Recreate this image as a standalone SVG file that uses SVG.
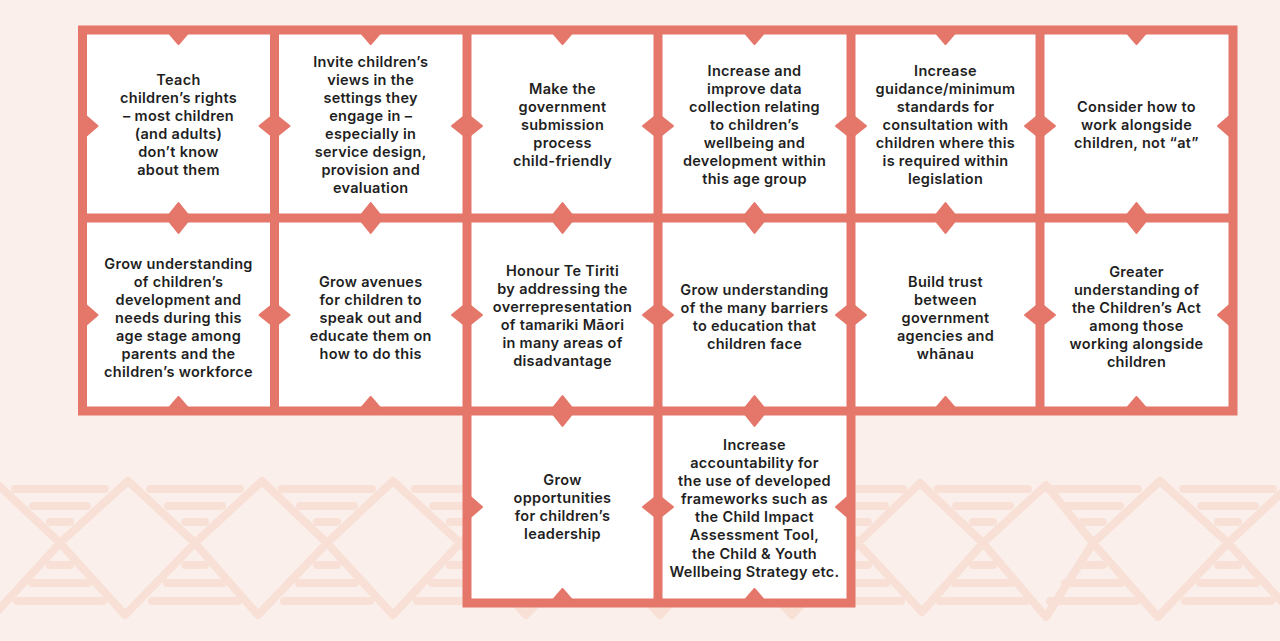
<svg xmlns="http://www.w3.org/2000/svg" width="1280" height="641" viewBox="0 0 1280 641">
<style>
.bg{fill:#faefea}
.pat{fill:none;stroke:#f8e0d6;stroke-width:8;stroke-linecap:round;stroke-linejoin:round}
.cell{fill:#ffffff}
.grid{stroke:#e4776a;stroke-width:9;stroke-linecap:square;fill:none}
.dia{fill:#e4776a;stroke:#e4776a;stroke-width:2;stroke-linejoin:round}
.t{font-family:Inter,"Open Sans",sans-serif;font-weight:600;font-size:14.5px;letter-spacing:0.3px;fill:#1f1f1f;text-anchor:middle}
</style>
<defs>
<polygon id="dv" points="-15,0 0,-12 15,0 0,12"/>
<polygon id="dh" points="0,-15 12,0 0,15 -12,0"/>
<polygon id="tr" points="0,-13 15,0 0,13"/>
<polygon id="tl" points="0,-13 -15,0 0,13"/>
<polygon id="td" points="-12,0 0,14 12,0"/>
<polygon id="tu" points="-12,0 0,-14 12,0"/>
<g id="dash">
<path d="M-45,-54H45M-27,-37H27M-10,-21H10M-10,22H10M-28,40H28M-43,58H43"/>
</g>
</defs>
<rect class="bg" x="0" y="0" width="1280" height="641"/>
<g id="pattern" class="pat">
<path d="M-73,543L-6,481L60,543L-6,615Z M60,543L128,481L195,543L125,615Z M195,543L262,481L327,543L258,615Z M327,543L393,481L460,543L393,615Z M460,543L526,481L593,543L526,615Z M593,543L660,481L726,543L660,615Z M726,543L792,481L858,543L792,615Z M858,543L920,483L983,543L922,612Z M983,543L1046,485L1093,543L1046,617Z M1093,543L1160,481L1228,543L1158,617Z M1228,543L1294,481L1360,543L1294,615Z"/>
<use href="#dash" x="60" y="543"/>
<use href="#dash" x="195" y="543"/>
<use href="#dash" x="327" y="543"/>
<use href="#dash" x="460" y="543"/>
<use href="#dash" x="858" y="543"/>
<use href="#dash" x="983" y="543"/>
<use href="#dash" x="1093" y="543"/>
<use href="#dash" x="1228" y="543"/>
</g>
<g id="c11"><rect class="cell" x="82.5" y="30" width="192" height="188"/>
<text class="t"><tspan x="178.5" y="85">Teach</tspan><tspan x="178.5" y="103">children’s rights</tspan><tspan x="178.5" y="121">– most children</tspan><tspan x="178.5" y="139">(and adults)</tspan><tspan x="178.5" y="157">don’t know</tspan><tspan x="178.5" y="175">about them</tspan></text></g>
<g id="c12"><rect class="cell" x="274.5" y="30" width="192.5" height="188"/>
<text class="t"><tspan x="370.7" y="67">Invite children’s</tspan><tspan x="370.7" y="85">views in the</tspan><tspan x="370.7" y="103">settings they</tspan><tspan x="370.7" y="121">engage in –</tspan><tspan x="370.7" y="139">especially in</tspan><tspan x="370.7" y="157">service design,</tspan><tspan x="370.7" y="175">provision and</tspan><tspan x="370.7" y="193">evaluation</tspan></text></g>
<g id="c13"><rect class="cell" x="467" y="30" width="191" height="188"/>
<text class="t"><tspan x="562.5" y="94">Make the</tspan><tspan x="562.5" y="112">government</tspan><tspan x="562.5" y="130">submission</tspan><tspan x="562.5" y="148">process</tspan><tspan x="562.5" y="166">child-friendly</tspan></text></g>
<g id="c14"><rect class="cell" x="658" y="30" width="193" height="188"/>
<text class="t"><tspan x="754.5" y="76">Increase and</tspan><tspan x="754.5" y="94">improve data</tspan><tspan x="754.5" y="112">collection relating</tspan><tspan x="754.5" y="130">to children’s</tspan><tspan x="754.5" y="148">wellbeing and</tspan><tspan x="754.5" y="166">development within</tspan><tspan x="754.5" y="184">this age group</tspan></text></g>
<g id="c15"><rect class="cell" x="851" y="30" width="189" height="188"/>
<text class="t"><tspan x="945.5" y="76">Increase</tspan><tspan x="945.5" y="94">guidance/minimum</tspan><tspan x="945.5" y="112">standards for</tspan><tspan x="945.5" y="130">consultation with</tspan><tspan x="945.5" y="148">children where this</tspan><tspan x="945.5" y="166">is required within</tspan><tspan x="945.5" y="184">legislation</tspan></text></g>
<g id="c16"><rect class="cell" x="1040" y="30" width="193" height="188"/>
<text class="t"><tspan x="1136.5" y="112">Consider how to</tspan><tspan x="1136.5" y="130">work alongside</tspan><tspan x="1136.5" y="148">children, not “at”</tspan></text></g>
<g id="c21"><rect class="cell" x="82.5" y="218" width="192" height="193"/>
<text class="t"><tspan x="178.5" y="269">Grow understanding</tspan><tspan x="178.5" y="287">of children’s</tspan><tspan x="178.5" y="305">development and</tspan><tspan x="178.5" y="323">needs during this</tspan><tspan x="178.5" y="341">age stage among</tspan><tspan x="178.5" y="359">parents and the</tspan><tspan x="178.5" y="377">children’s workforce</tspan></text></g>
<g id="c22"><rect class="cell" x="274.5" y="218" width="192.5" height="193"/>
<text class="t"><tspan x="370.7" y="287">Grow avenues</tspan><tspan x="370.7" y="305">for children to</tspan><tspan x="370.7" y="323">speak out and</tspan><tspan x="370.7" y="341">educate them on</tspan><tspan x="370.7" y="359">how to do this</tspan></text></g>
<g id="c23"><rect class="cell" x="467" y="218" width="191" height="193"/>
<text class="t"><tspan x="562.5" y="276">Honour Te Tiriti</tspan><tspan x="562.5" y="294">by addressing the</tspan><tspan x="562.5" y="312">overrepresentation</tspan><tspan x="562.5" y="330">of tamariki Māori</tspan><tspan x="562.5" y="348">in many areas of</tspan><tspan x="562.5" y="366">disadvantage</tspan></text></g>
<g id="c24"><rect class="cell" x="658" y="218" width="193" height="193"/>
<text class="t"><tspan x="754.5" y="295">Grow understanding</tspan><tspan x="754.5" y="313">of the many barriers</tspan><tspan x="754.5" y="331">to education that</tspan><tspan x="754.5" y="349">children face</tspan></text></g>
<g id="c25"><rect class="cell" x="851" y="218" width="189" height="193"/>
<text class="t"><tspan x="945.5" y="287">Build trust</tspan><tspan x="945.5" y="305">between</tspan><tspan x="945.5" y="323">government</tspan><tspan x="945.5" y="341">agencies and</tspan><tspan x="945.5" y="359">whānau</tspan></text></g>
<g id="c26"><rect class="cell" x="1040" y="218" width="193" height="193"/>
<text class="t"><tspan x="1136.5" y="277">Greater</tspan><tspan x="1136.5" y="295">understanding of</tspan><tspan x="1136.5" y="313">the Children’s Act</tspan><tspan x="1136.5" y="331">among those</tspan><tspan x="1136.5" y="349">working alongside</tspan><tspan x="1136.5" y="367">children</tspan></text></g>
<g id="c33"><rect class="cell" x="467" y="411" width="191" height="192"/>
<text class="t"><tspan x="562.5" y="485">Grow</tspan><tspan x="562.5" y="503">opportunities</tspan><tspan x="562.5" y="521">for children’s</tspan><tspan x="562.5" y="539">leadership</tspan></text></g>
<g id="c34"><rect class="cell" x="658" y="411" width="193" height="192"/>
<text class="t"><tspan x="754.5" y="450">Increase</tspan><tspan x="754.5" y="468">accountability for</tspan><tspan x="754.5" y="486">the use of developed</tspan><tspan x="754.5" y="504">frameworks such as</tspan><tspan x="754.5" y="522">the Child Impact</tspan><tspan x="754.5" y="540">Assessment Tool,</tspan><tspan x="754.5" y="559">the Child &amp; Youth</tspan><tspan x="754.5" y="577">Wellbeing Strategy etc.</tspan></text></g>
<g id="connectors">
<path class="grid" d="M82.5,30H1233M82.5,218H1233M82.5,411H1233M467,603H851M82.5,30V411M274.5,30V411M467,30V603M658,30V603M851,30V603M1040,30V411M1233,30V411"/>
<g class="dia">
<use href="#tr" x="82.5" y="126"/><use href="#tr" x="82.5" y="315"/><use href="#tr" x="467" y="507"/>
<use href="#tl" x="1233" y="126"/><use href="#tl" x="1233" y="315"/><use href="#tl" x="851" y="507"/>
<use href="#dv" x="274.5" y="126"/><use href="#dv" x="467" y="126"/><use href="#dv" x="658" y="126"/><use href="#dv" x="851" y="126"/><use href="#dv" x="1040" y="126"/>
<use href="#dv" x="274.5" y="315"/><use href="#dv" x="467" y="315"/><use href="#dv" x="658" y="315"/><use href="#dv" x="851" y="315"/><use href="#dv" x="1040" y="315"/>
<use href="#dv" x="658" y="507"/>
<use href="#td" x="178.5" y="30"/><use href="#td" x="370.7" y="30"/><use href="#td" x="562.5" y="30"/><use href="#td" x="754.5" y="30"/><use href="#td" x="945.5" y="30"/><use href="#td" x="1136.5" y="30"/>
<use href="#dh" x="178.5" y="218"/><use href="#dh" x="370.7" y="218"/><use href="#dh" x="562.5" y="218"/><use href="#dh" x="754.5" y="218"/><use href="#dh" x="945.5" y="218"/><use href="#dh" x="1136.5" y="218"/>
<use href="#tu" x="178.5" y="411"/><use href="#tu" x="370.7" y="411"/><use href="#dh" x="562.5" y="411"/><use href="#dh" x="754.5" y="411"/><use href="#tu" x="945.5" y="411"/><use href="#tu" x="1136.5" y="411"/>
<use href="#tu" x="562.5" y="603"/><use href="#tu" x="754.5" y="603"/>
</g>
</g>
</svg>
